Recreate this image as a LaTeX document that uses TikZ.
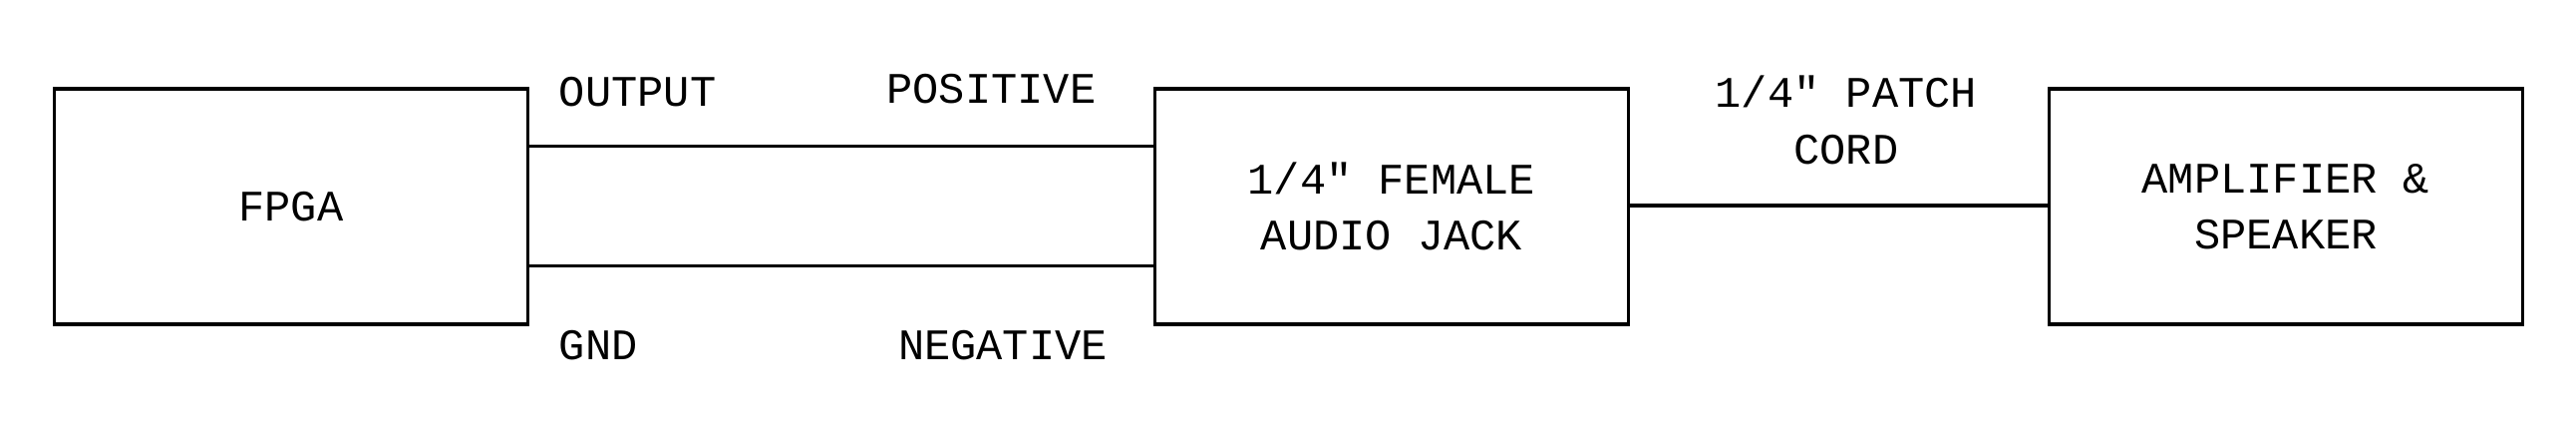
\documentclass[tikz,border=0pt]{standalone}
\usepackage{fontspec}
\setmainfont{Liberation Mono}[Ligatures=ResetAll]
\begin{document}
\begin{tikzpicture}[x=1pt,y=-1pt,
  box/.style={draw,line width=2pt,minimum width=288pt,minimum height=143pt,inner sep=0pt,align=center},
  lbl/.style={inner sep=0pt,align=center},
  wire/.style={line width=2pt},
  every node/.style={font=\fontsize{26.5}{34}\selectfont}]
\useasboundingbox (0,0) rectangle (1567,267);
\node[box] (fpga) at (177,125.5) {FPGA};
\node[box] (jack) at (846.5,125.5) {1/4\textquotedbl\ FEMALE\\AUDIO JACK};
\node[box] (amp) at (1390.5,125.5) {AMPLIFIER \&\\SPEAKER};
\draw[wire] ([yshift=-36pt]fpga.east) -- ([yshift=-36pt]jack.west);
\draw[wire] ([yshift=36.5pt]fpga.east) -- ([yshift=36.5pt]jack.west);
\draw[wire] ([yshift=0.5pt]jack.east) -- ([yshift=0.5pt]amp.west);
\node[lbl,anchor=west] (o) at (340,56) {OUTPUT};
\node[lbl] (p) at (603,54) {POSITIVE};
\node[lbl,anchor=west] (g) at (340,210) {GND};
\node[lbl] (n) at (610,210) {NEGATIVE};
\node[lbl] (c) at (1123,73) {1/4\textquotedbl\ PATCH\\CORD};
\end{tikzpicture}
\end{document}
